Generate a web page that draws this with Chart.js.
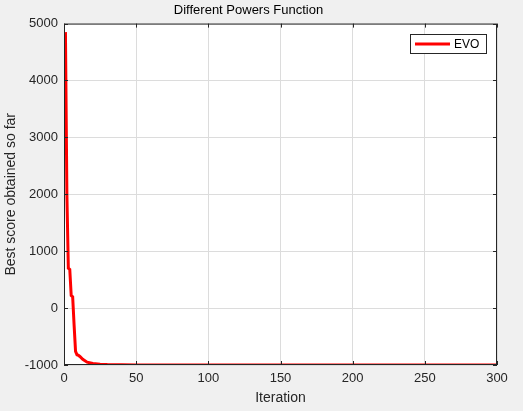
<!DOCTYPE html><html><head><script src="https://cdn.jsdelivr.net/npm/chart.js@4"></script>
<style>body{margin:0;background:#f0f0f0}canvas{display:block}</style></head><body>
<div style="width:523px;height:411px"><canvas id="c"></canvas></div>
<script>
const iterations=[1,2,3,4,5,6,7,8,9,10,11,13,16,20,25,30,40,50,75,100,150,200,250,300];
const evoScores=[4850,2000,700,680,220,200,-300,-760,-820,-830,-850,-900,-950,-975,-988,-993,-997,-999,-1000,-1000,-1000,-1000,-1000,-1000];
const seriesName='EVO';
const F='Helvetica, Arial, "Liberation Sans", sans-serif';
const frame={id:'frame',beforeDraw(c){const a=c.chartArea,x=c.ctx;x.save();x.fillStyle='#f0f0f0';x.fillRect(0,0,c.width,c.height);x.fillStyle='#fff';x.fillRect(a.left,a.top,a.right-a.left,a.bottom-a.top);x.restore();},
afterDraw(c){const a=c.chartArea,x=c.ctx;x.save();x.strokeStyle='#262626';x.lineWidth=1;x.strokeRect(a.left+0.5,a.top+0.5,a.right-a.left-1,a.bottom-a.top-1);
x.beginPath();const xs=c.scales.x,ys=c.scales.y;
for(let v=0;v<=300;v+=50){const p=Math.round(xs.getPixelForValue(v))+0.5;x.moveTo(p,a.bottom);x.lineTo(p,a.bottom-4);x.moveTo(p,a.top);x.lineTo(p,a.top+4);}
for(let v=-1000;v<=5000;v+=1000){const p=Math.round(ys.getPixelForValue(v))+0.5;x.moveTo(a.left,p);x.lineTo(a.left+4,p);x.moveTo(a.right,p);x.lineTo(a.right-4,p);}
x.stroke();
const lx=410,ly=34,w=76,h=19;x.fillStyle='#fff';x.fillRect(lx,ly,w,h);x.strokeStyle='#262626';x.strokeRect(lx+0.5,ly+0.5,w,h);
x.strokeStyle='red';x.lineWidth=3;x.beginPath();x.moveTo(lx+5,ly+10);x.lineTo(lx+40,ly+10);x.stroke();
x.fillStyle='#000';x.font='12px '+F;x.textBaseline='middle';x.fillText(seriesName,lx+44,ly+10.5);x.restore();}};
new Chart(document.getElementById('c'),{type:'scatter',data:{datasets:[{label:seriesName,data:iterations.map((v,i)=>({x:v,y:evoScores[i]})),showLine:true,borderColor:'red',borderWidth:3,pointRadius:0,tension:0}]},
options:{responsive:true,maintainAspectRatio:false,animation:false,layout:{padding:{top:0,right:26}},
plugins:{legend:{display:false},tooltip:{enabled:false},title:{display:true,text:'Different Powers Function',color:'#000',font:{family:F,size:13,weight:'normal'},padding:{top:3,bottom:5}}},
scales:{x:{type:'linear',min:0,max:300,afterFit(s){s.height=46},ticks:{stepSize:50,padding:6,color:'#262626',font:{family:F,size:13},maxRotation:0,callback:v=>String(v)},grid:{color:'#dcdcdc',drawTicks:false},border:{display:false},title:{display:true,text:'Iteration',color:'#262626',font:{family:F,size:14},padding:{top:0}}},
y:{min:-1000,max:5000,afterFit(s){s.width=64},ticks:{stepSize:1000,color:'#262626',font:{family:F,size:13},padding:6,callback:v=>String(v)},grid:{color:'#dcdcdc',drawTicks:false},border:{display:false},title:{display:true,text:'Best score obtained so far',color:'#262626',font:{family:F,size:14},padding:{top:3,bottom:0}}}}},
plugins:[frame]});
</script></body></html>
